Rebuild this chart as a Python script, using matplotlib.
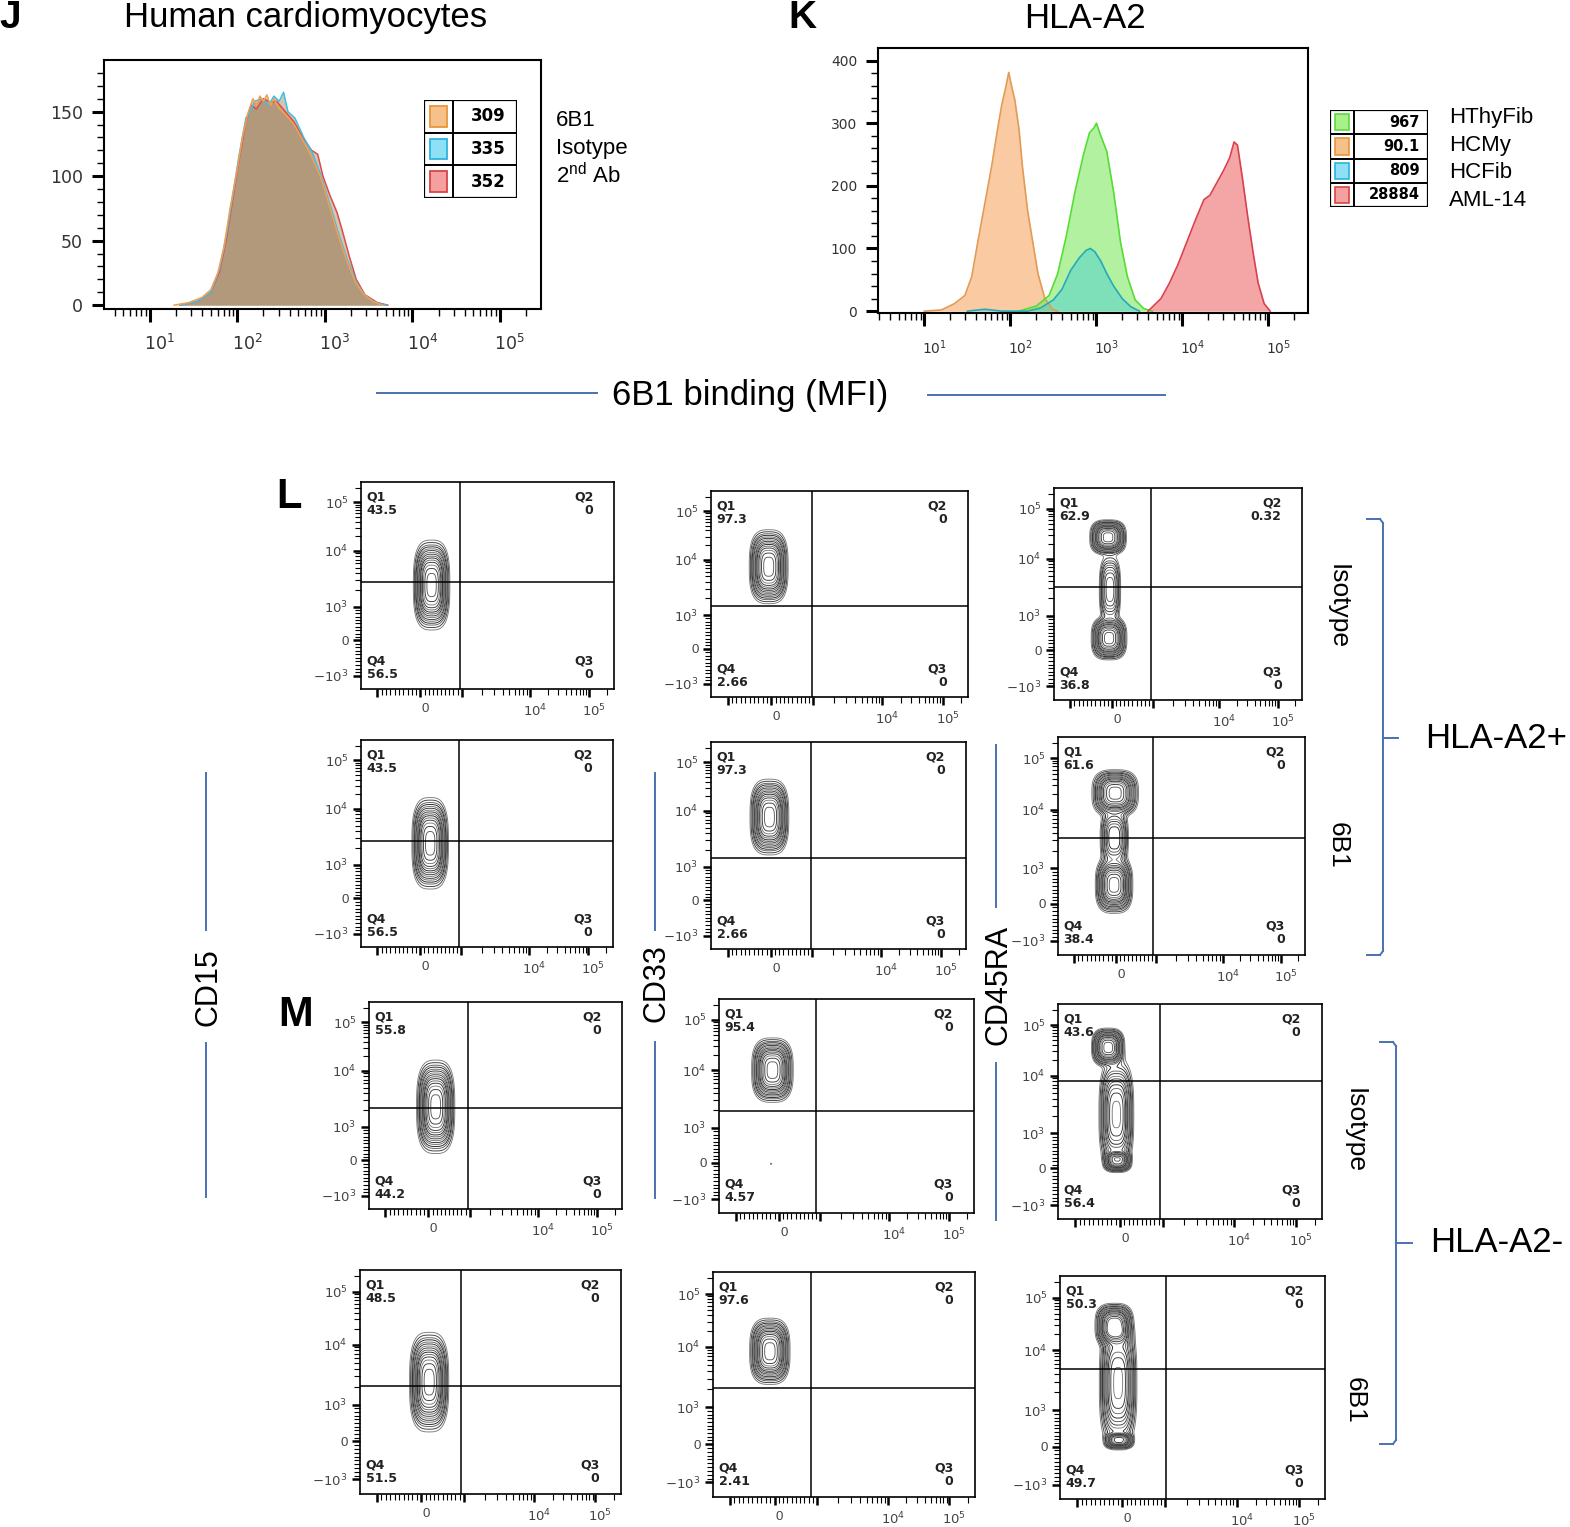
import numpy as np
import matplotlib
matplotlib.use('Agg')
import matplotlib.pyplot as plt
from matplotlib.lines import Line2D
from matplotlib.patches import Rectangle
from matplotlib.transforms import ScaledTranslation

plt.rcParams['font.family'] = ['Liberation Sans', 'DejaVu Sans']

# ---------------- data ----------------
# J: human cardiomyocytes, histogram outlines (log10 MFI, count)
j_log_mfi_6b1 = [1.28, 1.45, 1.6, 1.7, 1.78, 1.85, 1.92, 2.0, 2.06, 2.12, 2.18, 2.22, 2.26, 2.3, 2.34,
                 2.38, 2.42, 2.48, 2.55, 2.65, 2.75, 2.85, 2.95, 3.05, 3.15, 3.25, 3.35, 3.45, 3.55, 3.65]
j_count_6b1 = [0, 2, 6, 12, 25, 45, 75, 105, 130, 148, 160, 155, 162, 158, 163,
               155, 160, 152, 148, 140, 128, 115, 100, 78, 55, 35, 18, 8, 3, 0]
j_log_mfi_iso = [1.35, 1.55, 1.7, 1.8, 1.88, 1.95, 2.02, 2.1, 2.15, 2.2, 2.28, 2.36, 2.42, 2.48, 2.53,
                 2.58, 2.66, 2.76, 2.86, 2.96, 3.06, 3.16, 3.26, 3.36, 3.46, 3.58, 3.7]
j_count_iso = [0, 3, 10, 28, 55, 85, 115, 145, 150, 158, 160, 155, 162, 158, 165,
               150, 145, 130, 118, 100, 78, 55, 35, 18, 7, 2, 0]
j_log_mfi_2nd = [1.35, 1.55, 1.7, 1.8, 1.88, 1.95, 2.02, 2.1, 2.16, 2.22, 2.3, 2.38, 2.45, 2.55, 2.65,
                 2.75, 2.85, 2.92, 2.98, 3.06, 3.14, 3.2, 3.28, 3.36, 3.46, 3.6, 3.72]
j_count_2nd = [0, 3, 10, 26, 52, 82, 112, 142, 155, 152, 160, 157, 158, 150, 142,
               130, 120, 117, 100, 85, 72, 58, 38, 20, 8, 2, 0]
j_mfi = ['309', '335', '352']
j_names = ['6B1', 'Isotype', r'$\mathregular{2^{nd}}$ Ab']

# K: HLA-A2 histograms
k_log_mfi_hthy = [2.1, 2.3, 2.45, 2.55, 2.65, 2.75, 2.85, 2.92, 2.97, 3.0, 3.05, 3.12, 3.2, 3.28,
                  3.36, 3.45, 3.55, 3.65]
k_count_hthy = [0, 8, 25, 60, 120, 190, 250, 285, 292, 300, 280, 255, 190, 110, 55, 18, 4, 0]
k_log_mfi_hcmy = [1.0, 1.2, 1.35, 1.47, 1.55, 1.62, 1.7, 1.78, 1.85, 1.9, 1.95, 1.98, 2.02, 2.05,
                  2.1, 2.14, 2.2, 2.26, 2.32, 2.4, 2.49, 2.55]
k_count_hcmy = [0, 2, 12, 25, 55, 110, 170, 230, 290, 330, 360, 381, 355, 338, 290, 230, 160,
                110, 60, 20, 3, 0]
k_log_mfi_hcfib = [1.5, 1.7, 1.9, 2.2, 2.35, 2.5, 2.6, 2.7, 2.8, 2.88, 2.93, 2.98, 3.05, 3.12,
                   3.2, 3.3, 3.4, 3.5]
k_count_hcfib = [0, 3, 0, 0, 5, 18, 35, 65, 85, 97, 100, 95, 80, 60, 40, 20, 7, 0]
k_log_mfi_aml = [3.6, 3.75, 3.85, 3.95, 4.05, 4.15, 4.25, 4.32, 4.4, 4.48, 4.55, 4.6, 4.64, 4.7,
                 4.76, 4.82, 4.88, 4.95, 5.02]
k_count_aml = [0, 20, 45, 75, 110, 145, 178, 185, 205, 225, 245, 270, 265, 210, 150, 95, 45, 12, 0]
k_mfi = ['967', '90.1', '809', '28884']
k_names = ['HThyFib', 'HCMy', 'HCFib', 'AML-14']

# L / M: quadrant statistics (Q1, Q2, Q3, Q4), row by row
quad_stats = [
    ('43.5', '0', '0', '56.5'), ('97.3', '0', '0', '2.66'), ('62.9', '0.32', '0', '36.8'),
    ('43.5', '0', '0', '56.5'), ('97.3', '0', '0', '2.66'), ('61.6', '0', '0', '38.4'),
    ('55.8', '0', '0', '44.2'), ('95.4', '0', '0', '4.57'), ('43.6', '0', '0', '56.4'),
    ('48.5', '0', '0', '51.5'), ('97.6', '0', '0', '2.41'), ('50.3', '0', '0', '49.7'),
]
gate_x = [970, 970, 950, 950, 960, 910, 960, 900, 930, 930, 850, 1020]
gate_y = [2790, 1430, 3150, 2700, 1430, 3260, 2120, 1930, 7940, 2050, 2080, 4790]
# populations: (x low, x high, y low, y high, weight) for the outer contour
populations = [
    [(-165, 712, 307, 16700, 1.0)],
    [(-506, 399, 1600, 41400, 1.0)],
    [(-535, 350, 11900, 60100, 1.0), (-500, 362, -270, 975, 1.0), (-330, 230, 700, 13000, 0.5)],
    [(-194, 687, 276, 17100, 1.0)],
    [(-482, 430, 1620, 45000, 1.0)],
    [(-576, 558, 7600, 60100, 1.0), (-494, 417, -259, 1590, 1.0), (-400, 330, 1000, 11000, 0.6)],
    [(-276, 638, 202, 16700, 1.0)],
    [(-629, 344, 2770, 44000, 1.0), (-218, -147, -65, 6, 0.07)],
    [(-635, 110, 15200, 87000, 1.0), (-480, 330, -76, 22500, 0.8), (-382, 276, -88, 521, 0.8)],
    [(-265, 644, 258, 17100, 1.0)],
    [(-559, 362, 2400, 35000, 1.0)],
    [(-606, 258, 11400, 78000, 1.0), (-520, 350, -88, 44800, 0.8), (-412, 276, -59, 399, 0.8)],
]

W, H = 1570, 1527
BLUE = '#4a72b0'

fig = plt.figure(figsize=(15.7, 15.27), dpi=100)


def fx(x):
    return x / W


def fy(y):
    return 1 - y / H


def add_ax_px(l, r, t, b):
    return fig.add_axes([l / W, 1 - b / H, (r - l) / W, (b - t) / H])


def fig_line(x0, y0, x1, y1, lw=1.4):
    fig.add_artist(Line2D([fx(x0), fx(x1)], [fy(y0), fy(y1)], color=BLUE, lw=lw))


def log_axis_style(ax, ylim, ymajor, yminor, lab_size):
    ax.set_xscale('log')
    ax.set_ylim(*ylim)
    ax.set_xticks([10.0 ** d for d in range(1, 6)])
    ax.set_xticklabels([r'$10^{%d}$' % d for d in range(1, 6)])
    lo, hi = ax.get_xlim()
    minors = [m * 10.0 ** d for d in range(0, 6) for m in range(2, 10)]
    ax.set_xticks([v for v in minors if lo < v < hi], minor=True)
    ax.set_xticklabels([], minor=True)
    ax.set_yticks(ymajor)
    ax.set_yticks(yminor, minor=True)
    ax.tick_params(axis='both', which='major', length=9, width=2.2, labelsize=lab_size,
                   labelcolor='#333333', pad=6)
    ax.tick_params(axis='both', which='minor', length=5, width=1)
    ax.tick_params(axis='x', which='major', pad=9)
    for s in ax.spines.values():
        s.set_linewidth(1.5)
    off = ScaledTranslation(0.1, 0, fig.dpi_scale_trans)
    for lbl in ax.get_xticklabels():
        lbl.set_transform(lbl.get_transform() + off)
        lbl.set_fontfamily('DejaVu Sans')
    for lbl in ax.get_yticklabels():
        lbl.set_fontfamily('DejaVu Sans')


# ---------------- J ----------------
axj = add_ax_px(104, 541, 60, 309)
axj.set_xlim(10 ** 0.48, 10 ** 5.47)
for lx, cnt, edge in [(j_log_mfi_2nd, j_count_2nd, '#e24a4a'),
                      (j_log_mfi_iso, j_count_iso, '#3cc0e6'),
                      (j_log_mfi_6b1, j_count_6b1, '#f0a050')]:
    xs = 10 ** np.array(lx)
    axj.fill_between(xs, cnt, 0, color='#a88c6a', alpha=0.5, lw=0)
    axj.plot(xs, cnt, color=edge, lw=1.1)
log_axis_style(axj, (-3, 190), [0, 50, 100, 150],
               [v for v in range(10, 190, 10) if v % 50], 12.5)

fig.text(fx(10), fy(18), 'J', fontsize=28, fontweight='bold', ha='center', va='center')
fig.text(fx(306), fy(18), 'Human cardiomyocytes', fontsize=25, ha='center', va='center')

# J legend box
lj = add_ax_px(424, 517, 100, 198)
lj.set_xlim(0, 93)
lj.set_ylim(98, 0)
lj.axis('off')
rh = 98 / 3
j_sw = [('#f5c08a', '#e8953a'), ('#8fe0f5', '#2ab5dd'), ('#f4a0a0', '#d84545')]
lj.add_patch(Rectangle((0, 0), 93, 98, fill=False, lw=1.6, ec='black'))
lj.plot([29, 29], [0, 98], color='black', lw=1.4)
for i in range(3):
    if i:
        lj.plot([0, 93], [i * rh, i * rh], color='black', lw=1.4)
    lj.add_patch(Rectangle((6, i * rh + 6), 17, rh - 12, fc=j_sw[i][0], ec=j_sw[i][1], lw=1.3))
    lj.text(82, i * rh + rh / 2, j_mfi[i], ha='right', va='center', fontsize=12,
            fontweight='bold', family='DejaVu Sans')
for i, name in enumerate(j_names):
    fig.text(fx(556), fy(121 + 27.5 * i), name, fontsize=16, ha='left', va='center')

# ---------------- K ----------------
axk = add_ax_px(878, 1308, 48, 313)
axk.set_xlim(10 ** 0.46, 10 ** 5.46)
for lx, cnt, fc, ec, al in [(k_log_mfi_hcmy, k_count_hcmy, '#f7a865', '#e39a55', 0.6),
                            (k_log_mfi_hthy, k_count_hthy, '#80e860', '#55dd33', 0.6),
                            (k_log_mfi_hcfib, k_count_hcfib, '#30c8e0', '#25aabb', 0.4),
                            (k_log_mfi_aml, k_count_aml, '#ee6a6a', '#d9414f', 0.6)]:
    xs = 10 ** np.array(lx)
    axk.fill_between(xs, cnt, 0, color=fc, alpha=al, lw=0)
    axk.plot(xs, cnt, color=ec, lw=1.2)
log_axis_style(axk, (-3, 420), [0, 100, 200, 300, 400],
               [v for v in range(20, 420, 20) if v % 100], 10)

fig.text(fx(802), fy(18), 'K', fontsize=28, fontweight='bold', ha='center', va='center')
fig.text(fx(1085), fy(18), 'HLA-A2', fontsize=25, ha='center', va='center')

lk = add_ax_px(1330, 1428, 110, 207)
lk.set_xlim(0, 98)
lk.set_ylim(97, 0)
lk.axis('off')
rh = 97 / 4
k_sw = [('#a8f08a', '#5fd840'), ('#f5c08a', '#e8953a'), ('#8fe0f5', '#2ab5dd'),
        ('#f4a0a0', '#d84545')]
lk.add_patch(Rectangle((0, 0), 98, 97, fill=False, lw=1.6, ec='black'))
lk.plot([24, 24], [0, 97], color='black', lw=1.4)
for i in range(4):
    if i:
        lk.plot([0, 98], [i * rh, i * rh], color='black', lw=1.4)
    lk.add_patch(Rectangle((5, i * rh + 4), 14, rh - 8, fc=k_sw[i][0], ec=k_sw[i][1], lw=1.2))
    lk.text(90, i * rh + rh / 2, k_mfi[i], ha='right', va='center', fontsize=10.5,
            fontweight='bold', family='DejaVu Sans')
for i, name in enumerate(k_names):
    fig.text(fx(1449), fy(118 + 27.5 * i), name, fontsize=16, ha='left', va='center')

# shared x label
fig.text(fx(750), fy(395), '6B1 binding (MFI)', fontsize=25, ha='center', va='center')
fig_line(377, 393, 597, 393)
fig_line(928, 395, 1165, 395)

# ---------------- L / M contour plots ----------------
U_KN = np.array([-4.15, -3.0, 0.0, 3.0, 4.0, 5.0, 5.42])
P_KN = np.array([0.0, 0.065, 0.235, 0.398, 0.667, 0.902, 1.0])


def to_u(v):
    v = np.asarray(v, dtype=float)
    a = np.abs(v)
    lg = np.sign(v) * np.log10(np.where(a > 0, a, 1.0))
    return np.where(a >= 1000, lg, v * 3.0 / 1000)


def from_u(u):
    u = np.asarray(u, dtype=float)
    a = np.abs(u)
    return np.where(a >= 3, np.sign(u) * 10 ** np.minimum(a, 12), u * 1000 / 3.0)


def biex_fwd(v):
    u = to_u(v)
    p = np.interp(u, U_KN, P_KN)
    p = np.where(u < U_KN[0], P_KN[0] + (u - U_KN[0]) * (P_KN[1] - P_KN[0]) / (U_KN[1] - U_KN[0]), p)
    p = np.where(u > U_KN[-1], P_KN[-1] + (u - U_KN[-1]) * (P_KN[-1] - P_KN[-2]) / (U_KN[-1] - U_KN[-2]), p)
    return p


def biex_inv(p):
    p = np.asarray(p, dtype=float)
    u = np.interp(p, P_KN, U_KN)
    u = np.where(p < P_KN[0], U_KN[0] + (p - P_KN[0]) * (U_KN[1] - U_KN[0]) / (P_KN[1] - P_KN[0]), u)
    u = np.where(p > P_KN[-1], U_KN[-1] + (p - P_KN[-1]) * (U_KN[-1] - U_KN[-2]) / (P_KN[-1] - P_KN[-2]), u)
    return from_u(u)


panel_boxes = [
    (361, 614, 482, 689), (711, 968, 491, 697), (1054, 1302, 488, 700),
    (361, 613, 740, 947), (711, 966, 742, 949), (1058, 1305, 737, 955),
    (369, 622, 1002, 1209), (719, 974, 999, 1213), (1058, 1322, 1004, 1219),
    (360, 621, 1270, 1494), (713, 975, 1272, 1497), (1060, 1325, 1276, 1499),
]
major = [-1000, 0, 1000, 1e4, 1e5]
minor = ([v for v in range(-900, 1000, 100) if v != 0] + [m * 1e3 for m in range(2, 10)] +
         [m * 1e4 for m in range(2, 10)] + [2e5])
levels = [0.05, 0.08, 0.12, 0.16, 0.21, 0.26, 0.32, 0.38, 0.45, 0.52, 0.6, 0.68, 0.77, 0.86, 0.95]
lev_cols = ['#7a7a7a', '#3a3a3a', '#5a5a5a', '#222222', '#686868', '#333333']

grid = np.linspace(0, 1, 360)
PX, PY = np.meshgrid(grid, grid)
DX, DY = biex_inv(PX), biex_inv(PY)

for k, (l, r, t, b) in enumerate(panel_boxes):
    ax = add_ax_px(l, r, t, b)
    ax.set_xscale('function', functions=(biex_fwd, biex_inv))
    ax.set_yscale('function', functions=(biex_fwd, biex_inv))
    ax.set_xlim(float(biex_inv(0.0)), float(biex_inv(1.0)))
    ax.set_ylim(float(biex_inv(0.0)), float(biex_inv(1.0)))

    Z = np.zeros_like(PX)
    for x0, x1, y0, y1, w in populations[k]:
        px0, px1 = biex_fwd(x0), biex_fwd(x1)
        py0, py1 = biex_fwd(y0), biex_fwd(y1)
        cx, hx = (px0 + px1) / 2, (px1 - px0) / 2
        cy, hy = (py0 + py1) / 2, (py1 - py0) / 2
        rr = np.abs((PX - cx) / hx) ** 3 + np.abs((PY - cy) / hy) ** 3
        Z += w * np.exp(-3 * rr)
    ax.contour(DX, DY, Z, levels=levels, colors=lev_cols, linewidths=0.65)

    ax.axvline(gate_x[k], color='black', lw=1.1)
    ax.axhline(gate_y[k], color='black', lw=1.1)

    ax.set_xticks(major)
    ax.set_xticklabels(['', '0', '', r'$10^{4}$', r'$10^{5}$'])
    ax.set_yticks(major)
    ax.set_yticklabels([r'$-10^{3}$', '0', r'$10^{3}$', r'$10^{4}$', r'$10^{5}$'])
    ax.set_xticks(minor, minor=True)
    ax.set_yticks(minor, minor=True)
    ax.set_xticklabels([], minor=True)
    ax.set_yticklabels([], minor=True)
    ax.tick_params(which='major', length=6, width=1.8, labelsize=9.5, labelcolor='#444444', pad=3)
    ax.tick_params(which='minor', length=4, width=0.8)
    ax.tick_params(axis='x', which='major', pad=4)
    for s in ax.spines.values():
        s.set_linewidth(1.2)
    off = ScaledTranslation(0.05, 0, fig.dpi_scale_trans)
    for lbl in ax.get_xticklabels():
        lbl.set_transform(lbl.get_transform() + off)

    q1, q2, q3, q4 = quad_stats[k]
    kw = dict(fontsize=9, fontweight='bold', color='#222222', family='DejaVu Sans',
              transform=ax.transAxes, linespacing=1.05)
    ax.text(0.022, 0.96, 'Q1\n' + q1, ha='left', va='top', **kw)
    ax.text(0.918, 0.96, 'Q2\n' + q2, ha='right', va='top', multialignment='right', **kw)
    ax.text(0.022, 0.04, 'Q4\n' + q4, ha='left', va='bottom', **kw)
    ax.text(0.918, 0.04, 'Q3\n' + q3, ha='right', va='bottom', multialignment='right', **kw)

fig.text(fx(289), fy(497), 'L', fontsize=30, fontweight='bold', ha='center', va='center')
fig.text(fx(296), fy(1015), 'M', fontsize=30, fontweight='bold', ha='center', va='center')

# marker labels on the left of each column
for name, x, yc, segs in [('CD15', 208, 987, [(773, 930), (1043, 1197)]),
                          ('CD33', 657, 983, [(773, 930), (1042, 1198)]),
                          ('CD45RA', 998, 985, [(745, 907), (1063, 1220)])]:
    fig.text(fx(x), fy(yc), name, fontsize=22, rotation=90, ha='center', va='center')
    for y0, y1 in segs:
        fig_line(x - 2, y0, x - 2, y1)

# row labels on the right
for name, x, yc in [('Isotype', 1338, 607), ('6B1', 1338, 845),
                    ('Isotype', 1355, 1130), ('6B1', 1355, 1400)]:
    fig.text(fx(x), fy(yc), name, fontsize=19, rotation=-90, ha='center', va='center')

# braces
for x_in, x_v, y_top, y_bot, y_mid, tip, label, lx in [
        (1367, 1383, 519, 955, 738, 1398, 'HLA-A2+', 1425),
        (1380, 1396, 1042, 1444, 1243, 1412, 'HLA-A2-', 1430)]:
    fig_line(x_in, y_top, x_v - 3, y_top)
    fig_line(x_v - 3, y_top, x_v, y_top + 4)
    fig_line(x_v, y_top + 4, x_v, y_bot - 4)
    fig_line(x_v, y_bot - 4, x_v - 3, y_bot)
    fig_line(x_v - 3, y_bot, x_in, y_bot)
    fig_line(x_v, y_mid, tip, y_mid)
    fig.text(fx(lx), fy(y_mid), label, fontsize=25, ha='left', va='center')

fig.savefig('out.png', dpi=100)
